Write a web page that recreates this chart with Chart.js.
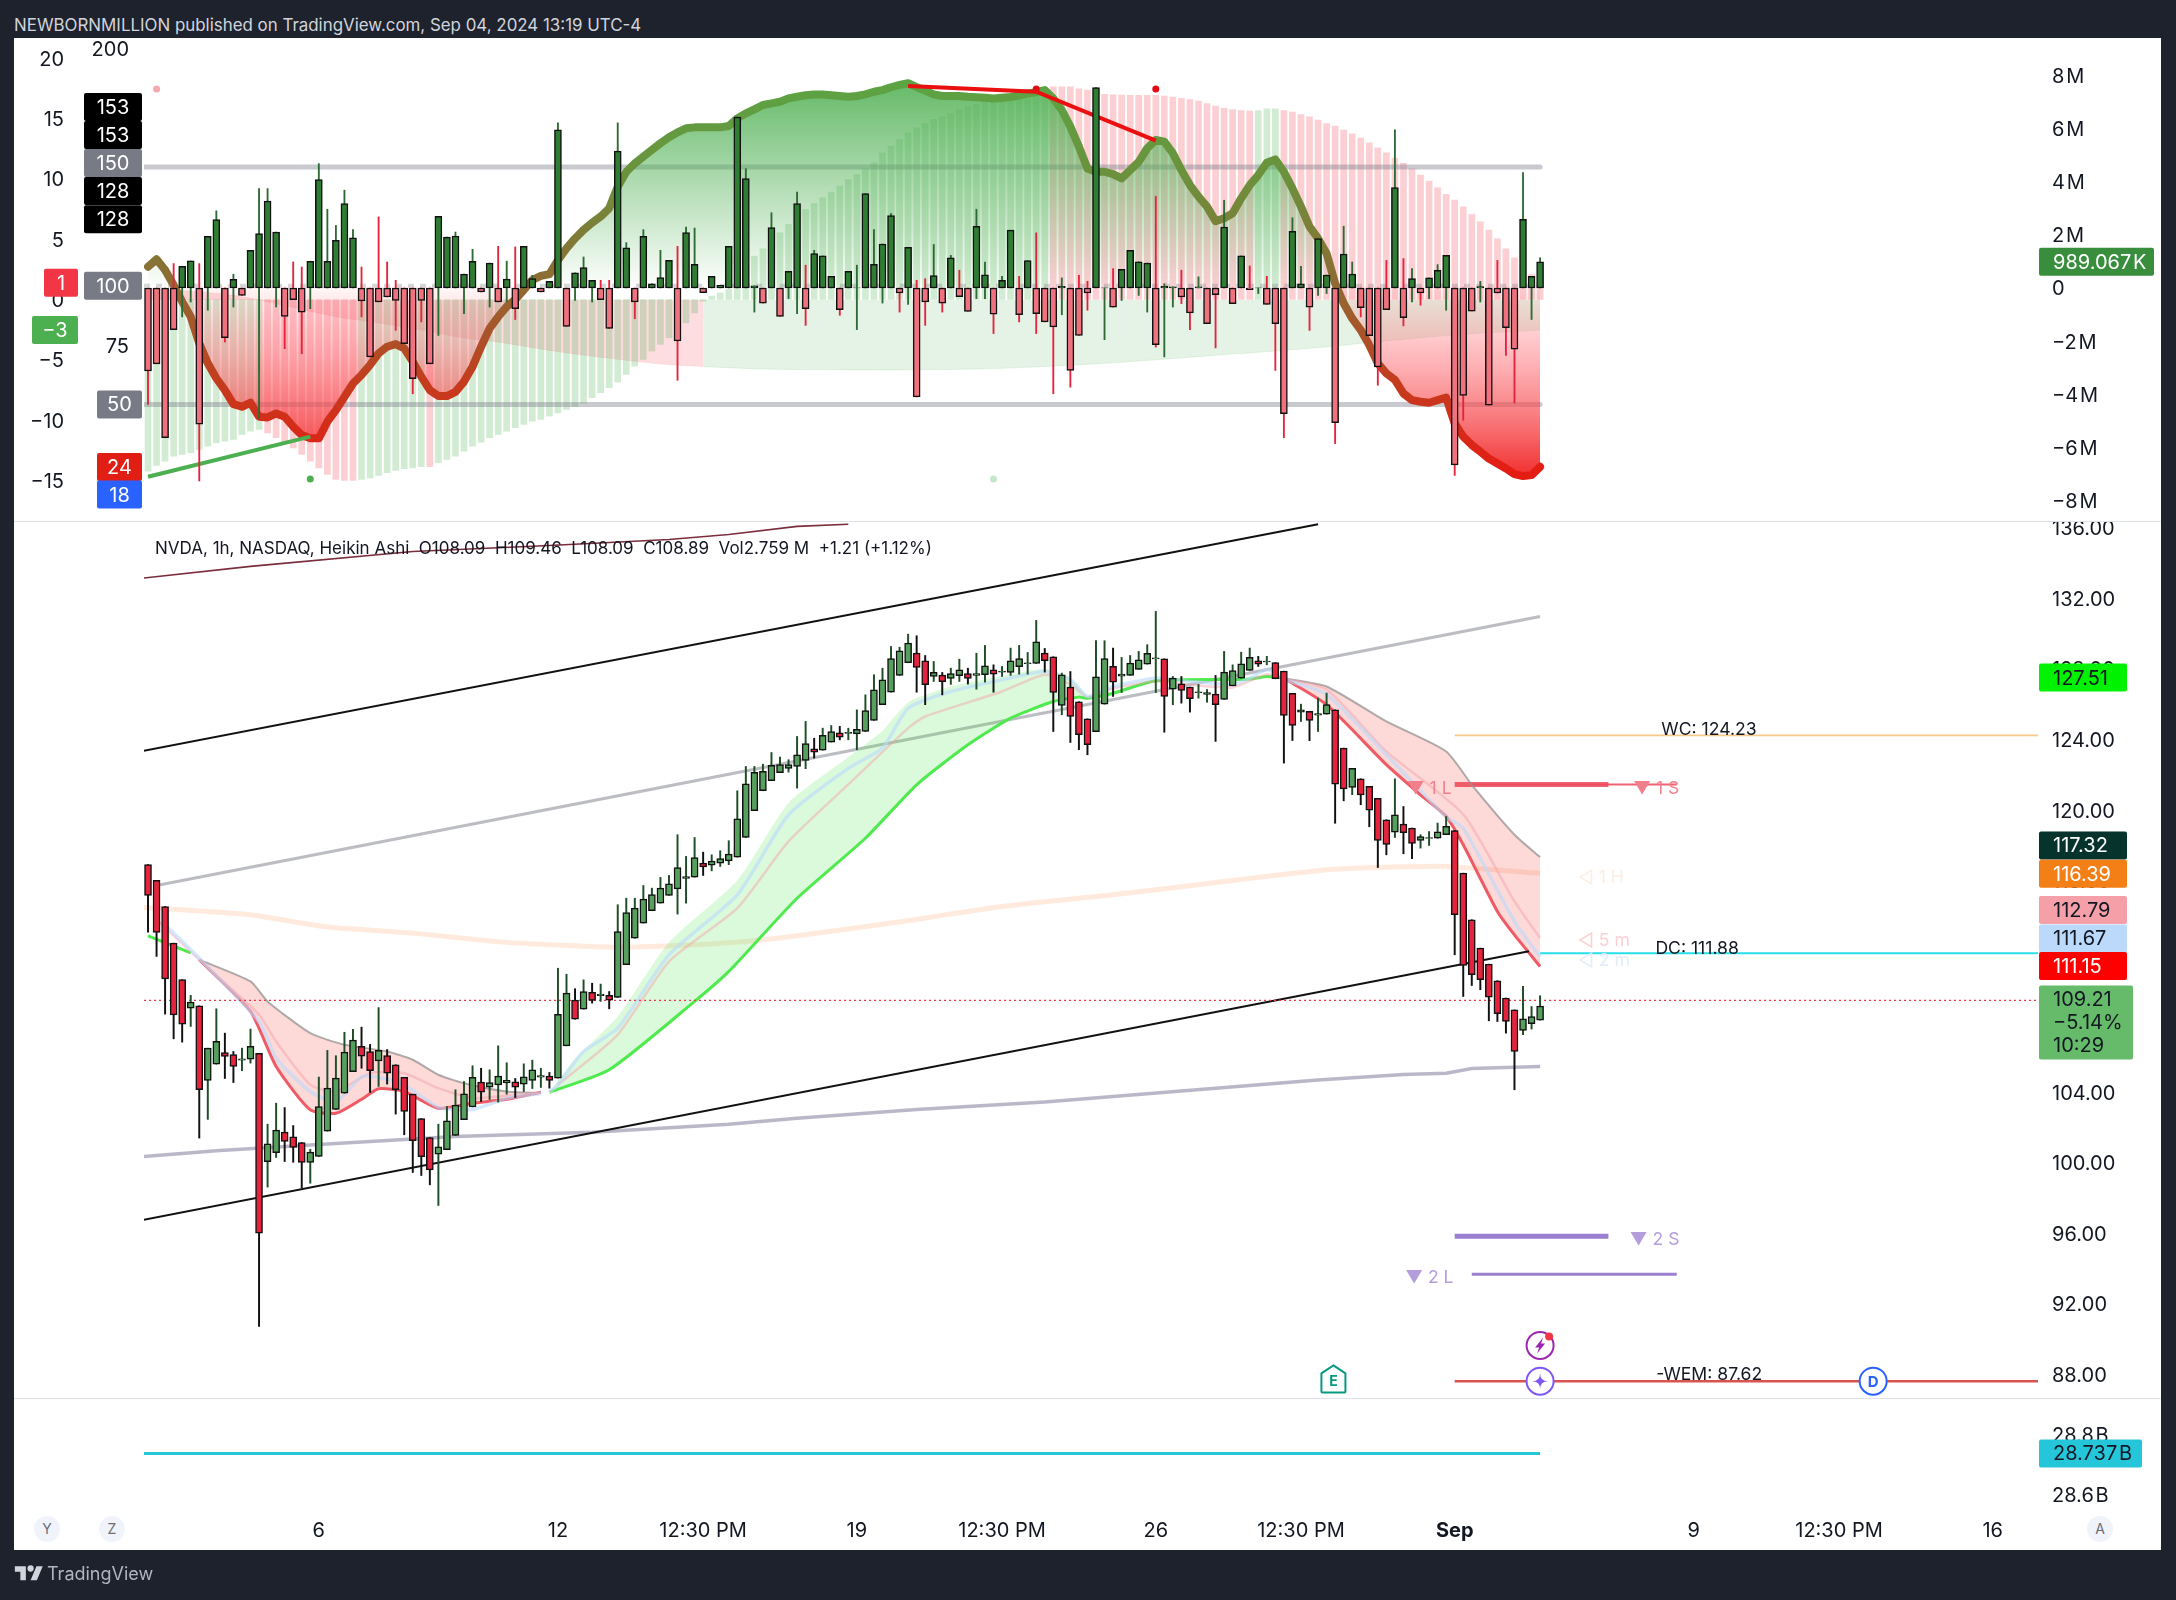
<!DOCTYPE html>
<html><head><meta charset="utf-8">
<style>
html,body{margin:0;padding:0;background:#1e222d;width:2176px;height:1600px;overflow:hidden;font-family:Inter,sans-serif}
#panel{position:absolute;left:14px;top:38px;width:2147px;height:1512px;background:#fff}
canvas{position:absolute;left:0}
.sep{position:absolute;left:14px;width:2147px;height:1px;background:#e0e3eb}
.t{position:absolute;white-space:pre}
.rb{position:absolute;width:26px;height:26px;border-radius:13px;background:#f0f3fa;color:#6a6d78;font-size:14px;line-height:26px;text-align:center;top:1516px}
</style>
<script src="https://cdn.jsdelivr.net/npm/chart.js@4/dist/chart.umd.min.js"></script>
</head><body>
<div id="panel"></div>
<canvas id="cTop" width="2176" height="483" style="top:38px"></canvas>
<canvas id="cMain" width="2176" height="877" style="top:521px"></canvas>
<canvas id="cBot" width="2176" height="152" style="top:1398px"></canvas>
<div class="sep" style="top:521px"></div>
<div class="sep" style="top:1398px"></div>
<div class="t" style="left:14px;top:15px;font-size:16.9px;color:#d1d4dc">NEWBORNMILLION published on TradingView.com, Sep 04, 2024 13:19 UTC-4</div>
<div class="t" style="left:155px;top:538px;font-size:17px;color:#131722">NVDA, 1h, NASDAQ, Heikin Ashi  O108.09  H109.46  L108.09  C108.89  Vol2.759 M  +1.21 (+1.12%)</div>
<div class="rb" style="left:34px">Y</div><div class="rb" style="left:99px">Z</div><div class="rb" style="left:2087px">A</div>
<svg style="position:absolute;left:14px;top:1563px" width="30" height="22" viewBox="0 0 36 28"><path fill="#d1d4dc" d="M14 22H7V11H0V4h14v18zM28 22h-8l7.5-18h8L28 22z"/><circle fill="#d1d4dc" cx="20" cy="7" r="4"/></svg>
<div class="t" style="left:47px;top:1563px;font-size:18px;color:#b2b5be">TradingView</div>
<script>
const open=[116.90,116.01,114.53,112.45,110.38,108.77,108.90,104.67,105.59,106.25,
106.14,105.82,105.88,106.21,100.06,100.58,101.74,101.47,101.15,100.02,
100.36,101.79,103.02,103.94,105.16,106.60,106.31,105.78,106.08,105.56,
104.84,103.89,102.51,101.43,100.49,100.74,101.55,102.44,103.17,104.57,
104.29,104.42,104.53,104.59,104.45,104.67,104.85,104.91,104.80,106.63,
109.22,108.71,109.67,109.47,109.49,109.37,111.23,112.73,113.59,114.29,
114.72,115.16,115.53,116.12,116.19,116.99,116.87,116.99,117.12,117.33,
118.44,119.96,121.09,121.66,122.11,122.36,122.47,122.81,123.47,123.39,
123.85,124.38,124.34,124.32,124.45,125.08,125.97,126.68,127.63,128.35,
128.89,128.46,127.57,127.65,127.46,127.61,127.74,127.63,127.67,127.95,
127.81,127.80,128.12,128.29,128.31,128.89,128.69,125.93,126.97,126.14,
125.17,124.44,126.00,128.14,127.59,127.63,127.97,128.27,128.57,128.57,
126.85,127.16,126.97,126.65,126.55,126.57,126.27,127.04,127.47,127.91,
128.46,128.40,128.36,127.87,126.61,125.55,125.60,125.38,125.43,125.68,
123.51,121.28,121.77,121.34,120.66,119.45,118.74,119.20,118.97,118.27,
118.39,118.40,118.60,118.84,116.42,113.78,112.17,111.26,110.32,109.34,
108.67,107.50,107.88,108.09];
const close=[115.16,113.06,110.43,108.39,107.86,109.11,104.14,106.50,106.88,106.03,
105.46,105.90,106.60,96.01,101.08,101.85,101.21,100.87,100.02,100.60,
103.19,104.23,104.80,106.27,106.95,106.05,105.22,106.38,105.08,104.14,
102.91,101.25,100.34,99.60,100.91,102.38,103.27,103.91,104.84,104.00,
104.55,104.91,104.68,104.29,104.87,105.27,104.95,104.67,108.42,109.62,
108.14,109.71,109.20,109.56,109.22,113.11,114.19,114.44,114.95,115.20,
115.57,115.82,116.74,116.23,117.31,116.78,117.10,117.24,117.50,119.50,
121.49,122.13,122.19,122.54,122.58,122.57,123.13,123.76,123.28,124.23,
124.45,124.13,124.41,124.58,125.64,126.82,127.38,128.58,129.03,129.46,
128.08,127.10,127.80,127.27,127.74,127.95,127.46,127.73,128.18,127.70,
127.87,128.46,128.58,128.35,129.54,128.46,126.66,127.67,125.30,124.27,
123.70,127.55,128.58,127.25,127.70,128.33,128.52,128.88,128.63,126.44,
127.48,126.78,126.31,126.70,126.66,125.97,127.82,127.90,128.29,128.65,
128.27,128.44,127.44,125.36,124.79,125.68,125.08,125.46,125.98,121.47,
121.20,122.36,120.86,119.99,118.27,118.05,119.73,118.71,118.10,118.50,
118.43,118.77,119.07,114.06,111.19,110.66,110.38,109.39,108.45,108.01,
106.31,108.16,108.29,108.89];
const high=[116.90,116.01,114.53,112.45,110.38,109.49,108.90,106.50,108.73,107.35,
106.31,106.50,107.58,106.21,102.19,103.38,103.13,102.11,101.15,100.76,
104.86,106.37,106.07,107.40,107.56,107.69,106.71,108.80,106.42,105.56,
104.84,103.89,102.51,101.43,102.19,103.19,104.14,104.61,105.50,105.36,
105.27,106.63,105.67,104.78,105.61,105.82,105.36,105.12,111.03,110.69,
109.87,110.37,110.18,110.13,109.71,114.63,115.00,115.00,115.72,115.57,
116.18,116.29,118.60,117.37,118.44,117.61,117.46,117.69,118.26,121.09,
122.47,122.47,122.60,123.26,123.00,122.85,124.17,125.02,124.07,124.64,
124.79,124.74,124.64,125.68,126.53,127.67,128.04,129.27,129.23,129.97,
129.88,128.76,128.42,127.80,128.04,128.55,128.04,128.89,129.33,128.23,
128.14,129.18,129.33,128.93,130.75,129.16,128.69,127.76,127.85,126.14,
125.17,129.60,129.60,129.18,128.65,128.76,128.99,129.37,131.26,128.57,
127.57,127.57,126.97,127.12,126.83,127.63,128.99,128.23,128.95,129.18,
128.71,128.71,128.36,127.87,126.61,126.00,125.60,126.34,126.63,125.68,
123.51,122.36,121.77,121.34,120.66,119.45,121.77,120.20,118.97,118.60,
118.78,119.26,119.63,118.84,116.42,113.78,112.17,111.26,110.32,109.34,
108.67,110.00,108.86,109.47];
const low=[113.08,111.70,108.43,107.03,106.84,107.73,101.40,102.46,105.59,104.78,
104.55,105.22,105.65,90.72,98.62,100.30,100.07,100.03,98.56,98.84,
100.36,101.79,103.02,103.94,105.16,105.36,103.99,104.33,104.46,102.76,
101.59,99.45,99.28,98.75,97.58,100.74,101.55,102.44,103.17,103.47,
103.59,103.44,103.89,103.70,104.04,104.21,104.27,104.23,104.80,106.63,
108.14,108.71,109.05,109.15,108.73,109.37,111.23,112.73,113.59,114.29,
114.72,115.16,114.10,114.72,116.19,116.29,116.55,116.80,116.90,117.33,
118.44,119.96,121.09,121.66,122.11,122.15,121.24,122.34,122.94,123.39,
123.85,123.98,123.98,123.42,124.45,125.08,125.97,126.68,127.63,128.35,
126.68,125.97,127.29,126.53,127.12,127.29,127.14,126.85,127.25,126.68,
127.57,127.63,127.70,127.70,128.31,127.82,124.45,125.40,123.83,123.42,
123.13,124.44,126.00,126.44,126.66,127.63,127.97,128.27,126.66,124.41,
125.97,126.06,125.55,126.34,126.11,123.89,126.27,127.04,127.47,127.91,
128.14,128.23,127.44,122.66,123.94,125.02,123.93,124.45,125.43,119.25,
120.52,120.87,120.30,119.05,116.74,117.46,118.44,117.52,117.24,117.84,
117.99,118.40,118.60,111.79,109.43,110.05,109.81,108.05,108.01,107.35,
104.14,107.26,107.58,108.09];
const vol=[-3.13,-2.86,-5.65,-1.57,.82,1.02,-5.14,1.95,2.58,-1.87,
.33,-.28,1.42,2.05,3.28,2.11,-1.07,-.44,-.91,1.01,
4.09,1.01,1.80,3.18,1.89,-.49,-2.60,-.53,-.34,-.47,
-2.10,-3.42,-.47,-2.86,2.70,1.92,1.96,.52,1.01,-.15,
.94,-.53,.34,-.78,1.57,.35,-.15,.25,5.97,-1.45,
.57,.77,.29,-.44,-1.53,5.16,1.51,-.53,1.95,.16,
.39,1.04,-2.0,2.09,.89,-.18,.44,.10,1.57,6.45,
4.13,.08,-.57,2.28,-1.07,.63,3.18,-.78,1.30,1.21,
.44,-.82,.63,.01,3.56,.89,1.66,2.73,-.19,1.53,
-4.11,-.53,.47,-.57,1.14,-.33,-.88,2.33,.50,-.99,
.29,2.18,-1.01,1.03,-.97,-1.28,-1.47,.06,-3.11,-1.79,
-.19,7.56,.01,-.72,.70,1.42,.99,.94,-2.14,.06,
.04,-.34,-.94,.04,-1.35,-.25,2.30,-.59,1.21,-.06,
.01,-.62,-1.35,-4.74,2.14,.16,-.72,1.86,.49,-5.08,
1.28,.52,-.74,-1.80,-2.98,-.82,3.79,-1.12,.35,-.19,
.38,.67,1.23,-6.67,-4.05,-.87,.05,-4.42,-.19,-1.50,
-2.31,2.59,.44,.989];
const volHigh=[0,0,0,.92,.82,1.02,.92,1.95,2.91,0,
.52,0,1.42,3.75,3.75,2.11,0,.98,.79,1.01,
4.69,2.97,2.36,3.69,2.20,.79,0,2.68,.98,.29,
0,0,0,0,2.70,1.92,2.11,.52,1.46,0,
.94,1.57,1.01,1.55,1.57,.48,0,.25,6.23,0,
.57,1.17,.29,.29,.29,6.23,1.71,0,2.20,.16,
1.42,1.04,1.57,2.30,2.26,0,.44,.10,1.57,6.45,
4.50,.08,0,2.84,0,.63,3.62,.86,1.42,1.21,
.44,0,.63,.86,3.56,2.20,1.66,2.81,0,1.53,
.29,.35,1.64,0,1.23,.67,0,2.97,.98,0,
.44,2.18,.44,1.03,2.08,0,0,.38,0,.48,
.25,7.56,.01,.73,.70,1.42,.99,.94,3.46,.16,
.04,.67,0,.42,0,0,3.31,0,1.21,.83,
.01,.44,0,0,2.65,.82,0,1.86,.49,0,
2.33,.98,0,0,0,1.04,5.97,1.11,.73,0,
.38,.88,1.23,0,0,0,.25,0,1.04,0,
0,4.35,.44,1.14];
const volLow=[-4.39,-2.86,-5.65,-1.57,-1.09,-.53,-7.28,-.84,0,-2.04,
-.72,-.28,0,-4.93,0,-.72,-2.29,-.44,-2.48,-.78,
0,0,0,0,0,-1.09,-2.60,-.53,-.34,-1.60,
-2.10,-3.99,-1.28,-2.86,-1.79,0,0,-.97,0,-.15,
-.72,-.53,-.53,-1.19,0,0,-.15,0,0,-1.45,
-.47,0,-.53,-.44,-1.53,0,0,-1.16,0,0,
0,0,-3.48,0,0,-.18,0,0,0,0,
0,-.91,-.57,0,-1.07,-.40,-.97,-1.41,0,0,
0,-1.03,0,-1.57,0,0,-.57,0,-.91,-.62,
-4.11,-1.41,0,-.91,0,-.33,-.88,-.40,-.40,-1.72,
0,0,-1.28,0,-1.72,-1.28,-3.99,-1.01,-3.74,-1.79,
-.84,0,-1.95,-.72,-.47,0,-.28,-.91,-2.23,-2.60,
-.72,-.59,-1.57,0,-1.35,-2.26,0,-.59,0,-.06,
-.21,-.62,-3.11,-5.65,0,0,-1.60,-.28,-.21,-5.87,
0,0,-1.09,-1.80,-3.67,-.82,0,-1.43,-.53,-.65,
-.40,0,-.84,-7.07,-4.99,-.87,-.53,-4.42,-.19,-2.54,
-4.34,0,-1.19,0];
const hist=[-14.23,-13.76,-13.41,-12.99,-12.85,-12.71,-12.44,-12.16,-11.88,-11.75,
-11.61,-11.19,-10.92,-10.78,-11.06,-11.47,-11.88,-12.30,-12.85,-13.41,
-13.96,-14.51,-14.93,-15.01,-15.01,-14.93,-14.79,-14.59,-14.37,-14.18,
-14.04,-13.96,-13.87,-13.87,-13.54,-13.27,-12.99,-12.58,-12.16,-11.83,
-11.47,-11.19,-10.92,-10.64,-10.36,-10.09,-9.95,-9.67,-9.40,-9.12,
-8.90,-8.62,-8.15,-7.74,-7.32,-6.85,-6.22,-5.53,-4.98,-4.28,
-3.73,-3.18,-2.76,-1.93,-1.11,-.14,.28,.55,.83,1.66,
2.76,3.59,4.2,4.92,5.53,6.22,6.77,7.46,7.96,8.43,
8.90,9.40,9.95,10.36,10.83,11.33,12.16,12.71,13.27,13.82,
14.23,14.59,14.93,15.15,15.42,15.75,15.98,16.17,16.36,16.53,
16.72,16.86,17.0,17.14,17.27,17.55,17.63,17.63,17.63,17.47,
17.36,17.14,17.0,16.97,16.94,16.92,16.92,16.92,16.92,16.86,
16.78,16.67,16.58,16.45,16.25,16.03,15.84,15.75,15.67,15.62,
15.67,15.81,15.81,15.67,15.53,15.34,15.15,14.87,14.59,14.37,
14.04,13.74,13.38,12.99,12.58,12.16,11.72,11.28,10.83,10.31,
9.81,9.26,8.71,8.24,7.68,7.05,6.44,5.75,5.03,4.2,
3.45,2.76,2.07,1.49];
const histPinkRanges=[[14,24],[33,33],[106,129],[133,163]];
const rsi=[108,111.1,106.6,100.3,93.3,86.9,75.7,67.3,61,56,
50.1,49,50.7,44.8,44.5,46.2,44.8,40.6,37.1,35.7,
35.7,42.7,47.6,53.2,58.8,62.4,66.6,71.5,74.3,75.4,
73.6,68,61.7,56,53.5,53.5,55.3,59.6,65.9,74.3,
82,86.9,91.2,94.2,98.2,102.4,104.1,104.9,110.8,115.7,
119.9,123.5,126.5,129.1,132.6,141.7,148,151.5,154.4,157.2,
160,162.5,164.6,166.3,166.7,166.7,166.7,166.7,167.3,170.5,
172.6,174.3,176.1,176.8,177.5,178.9,179.6,180.2,180.5,180.5,
180.2,179.9,179.6,179.9,180.6,181.7,182.4,183.6,184.6,185.3,
183.6,182.2,180.6,179.9,179.9,179.9,179.6,179.4,179.2,178.9,
179.2,179.5,180.1,181,181.5,182.4,178.9,174,167,158.6,
149.4,148,148,147,145.2,148.7,152.2,157.9,161.4,160.7,
155.8,148.7,142.4,137.5,133.3,127.2,128.4,130.5,136.8,142.4,
146.6,151.8,153.2,148,141,133.3,124.9,119.9,113.6,101,
92.6,86.2,81.3,75,67.3,63.1,60.3,54.6,51.8,51.1,
50.7,51.8,52.9,42,36.4,32.9,30.1,27.2,25.1,23,
20.6,19.8,20.2,23.7];
const sigLeftX=[0,8,12,22,26,32,36,42,48,54,60,65];
const sigLeft=[98.9,96.8,94.7,86.9,84.8,81.3,78.5,75.7,72.2,69.4,67,65.9];
const sigRightX=[65,72,76,88,100,112,124,136,144,154,163];
const sigRight=[65.9,64.9,64.7,64.5,65.2,67.3,70.4,73.6,76.4,79.5,81.3];
const sigBase=94;
const redDivX=[89,104,118],redDiv=[184.1,181.7,161.1];
const greenDivX=[0,19],greenDiv=[19.5,36.4];
const pinkDotsX=[1],redDotsX=[104,118],greenDotsX=[19],paleDotsX=[99];
const dotHigh=182.9,dotLow=18.6;
const rsiLevels=[150,50],rsiMid=100;
const chUpperX=[-0.5,137],chUpper=[123.36,136.2];
const chMidX=[1,163],chMid=[115.72,130.97];
const chLowerX=[-0.5,161.7],chLower=[96.77,111.99];
const maroonX=[-0.5,12,31,47,61,68,76,82],maroon=[133.15,133.81,134.66,135.0,135.34,135.62,136.08,136.2];
const peachX=[-0.5,12,20.5,31,41.5,54.5,62,70,76,87,100,113,126,138,144,152,163];
const peach=[114.48,114.06,113.4,113.02,112.51,112.22,112.32,112.55,112.87,113.59,114.53,115.19,115.95,116.61,116.74,116.8,116.42];
const longMaX=[-0.5,8,20.5,36,52,68,76,90,105,137,147,152,155,163];
const longMa=[100.36,100.68,101.05,101.49,101.73,102.19,102.53,103.02,103.44,104.69,105.0,105.08,105.35,105.46];
const greenStubX=[0,5],greenStub=[112.87,111.9];
const aUpperX=[6,12,14,19,23,28,31,34,37,42,46],aUpper=[111.51,110.28,109.15,107.35,106.69,106.31,105.84,104.99,104.51,104.04,103.95];
const aLowerX=[6,12,15,19,22,25,27,30,34,38,42,46],aLower=[111.51,108.58,105.46,103.0,102.81,103.6,104.2,104.04,103.09,103.38,103.6,104.0];
const aBlueX=[2,6,13,15,19,22,25,27,30,34,38,42,46],aBlue=[113.5,111.6,108.0,105.93,104.04,103.46,104.88,104.84,104.43,103.14,103.02,103.65,103.93];
const aPaleX=[1,6,13,15,19,22,26,30,34,38,42,46],aPale=[113.8,111.5,108.4,106.88,104.43,104.04,105.08,105.08,104.23,103.67,103.8,104.0];
const bLowerX=[47,54,64,68,76,84,90,96,101,106,109,110,113,118,129,131,133];
const bLower=[104.0,105.27,109.15,110.85,115.0,118.4,121.43,123.7,125.21,126.15,126.4,126.34,126.62,127.33,127.42,127.57,127.48];
const bBlueX=[47,48,51,55,61,69,75,82,86,89,94,100,105,108,110,113,118,122,127,129,131,133];
const bBlue=[104.0,104.42,106.31,107.63,111.79,115.19,119.73,122.37,123.51,125.77,126.72,127.38,127.85,127.38,126.44,127.0,127.47,127.29,127.1,127.47,127.97,127.5];
const bPaleX=[48,55,61,69,75,82,89,91,100,105,108,110,113,118,122,127,131,133];
const bPale=[104.42,107.27,111.41,114.44,118.22,121.45,124.64,125.3,126.72,127.67,127.12,126.4,126.9,127.3,127.1,126.95,127.7,127.45];
const bTopX=[47,50,55,61,69,75,82,86,89,94,100,105,108,110];
const bTop=[104.0,105.9,108.3,112.5,116.0,120.4,123.0,124.5,126.1,127.0,127.6,128.0,127.5,126.44];
const cUpperX=[133,138,145,152,155,160,163],cUpper=[127.47,127.0,125.02,123.32,121.43,118.6,117.33];
const cLowerX=[133,138,145,149,152,154,158,160,163],cLower=[127.47,125.97,122.57,120.86,119.63,118.03,114.25,112.92,111.13];
const cBlueX=[133,138,145,152,154,160,163],cBlue=[127.4,126.55,123.13,119.6,118.97,113.68,111.67];
const cPaleX=[133,138,145,154,160,163],cPale=[127.45,126.83,123.32,119.75,114.82,112.74];
const lastPrice=109.21,wc=124.23,dc=111.88,level1=121.45,level2s=95.84,level2l=93.68,wem=87.62,cvdValue=28.737;
const priceTicks=[88,92,96,100,104,108,112,116,120,124,128,132,136];
const volTicks=[8,6,4,2,0,-2,-4,-6,-8];
const oscTicks=[20,15,10,5,0,-5,-10,-15];
const rsiTicks=[200,150,100,75,50];
const cvdTicks=[28.8,28.6];
const timeIdx=[20,48,65,83,100,118,135,153,181,198,216];
const timeLabels=['6','12','12:30 PM','19','12:30 PM','26','12:30 PM','Sep','9','12:30 PM','16'];
const lastIdx=163,xMin=-0.47,xMax=221.3;
const mainTagText=['127.51','117.32','116.39','112.79','111.67','111.15'];
const mainTagAt=[127.51,117.99,116.39,114.33,112.72,111.15];

const FONT='Inter, sans-serif', INK='#131722', TS=20;
Chart.defaults.font.family=FONT; Chart.defaults.font.size=TS; Chart.defaults.color=INK;
Chart.defaults.animation=false;
const LAYOUT={padding:0,autoPadding:false};
const pts=(xs,ys)=>xs.map((x,i)=>({x,y:ys[i]}));
const idx=vol.map((_,i)=>i);
const minus=s=>String(s).replace('-','\u2212');
function xAxis(display){return {type:'linear',min:xMin,max:xMax,offset:false,display,grid:{display:false,offset:false},border:{display:false},
  afterBuildTicks:s=>{s.ticks=timeIdx.map(v=>({value:v}))},
  afterFit:s=>{if(display)s.height=38;s.paddingLeft=0;s.paddingRight=0},
  ticks:{autoSkip:false,maxRotation:0,padding:-1,callback:v=>timeLabels[timeIdx.indexOf(v)],
    font:c=>({family:FONT,size:TS,weight:c.tick&&c.tick.value===153?'700':'400'})}};}
function yAxis(pos,min,max,ticks,fmt,width,pad,weight){return {position:pos,min,max,weight,bounds:'data',grid:{display:false,drawTicks:false},border:{display:false},
  afterBuildTicks:s=>{s.ticks=ticks.map(v=>({value:v}))},
  afterFit:s=>{s.width=width;s.paddingTop=0;s.paddingBottom=0},
  ticks:{autoSkip:false,padding:pad,labelOffset:1.5,callback:fmt,font:{family:FONT,size:TS}}};}
function rr(c,x,y,w,h,r){c.beginPath();c.roundRect(x,y,w,h,r);c.fill();}
function drawTag(c,t,yc){const h=t.h||28;c.fillStyle=t.bg;rr(c,t.x0,yc-h/2,t.x1-t.x0,h,2);c.fillStyle=t.fg;
  c.font=TS+'px '+FONT;c.textBaseline='middle';
  const lines=t.lines||[t.text];
  lines.forEach((s,i)=>{const dy=(i-(lines.length-1)/2)*23;
    if(t.align==='center'){c.textAlign='center';c.fillText(s,(t.x0+t.x1)/2,yc+dy+1);}
    else{c.textAlign='left';c.fillText(s,t.x0+14,yc+dy+1);}});}
const tagsPlugin=list=>({id:'tags',afterDraw(ch){const c=ch.ctx;c.save();list.forEach(t=>drawTag(c,t,ch.scales[t.axis].getPixelForValue(t.at)));c.restore();}});

const topCtx=document.getElementById('cTop').getContext('2d');
const H=483,off=y=>(y-38)/H;
const rsiGrad=topCtx.createLinearGradient(0,0,0,H);
[[60,'#58a846'],[180,'#6c903c'],[286,'#8f6a33'],[380,'#c33d1f'],[470,'#e41d14']].forEach(s=>rsiGrad.addColorStop(off(s[0]),s[1]));
const upGrad=topCtx.createLinearGradient(0,85-38,0,285-38);
upGrad.addColorStop(0,'rgba(76,175,80,.85)');upGrad.addColorStop(1,'rgba(76,175,80,.02)');
const dnGrad=topCtx.createLinearGradient(0,286-38,0,475-38);
dnGrad.addColorStop(0,'rgba(255,90,100,.04)');dnGrad.addColorStop(.25,'rgba(255,110,120,.35)');dnGrad.addColorStop(1,'rgba(240,30,30,.92)');
const isPink=i=>histPinkRanges.some(r=>i>=r[0]&&i<=r[1]);
const line=(label,data,color,width,yID,extra)=>Object.assign({type:'line',label,data,yAxisID:yID,borderColor:color,borderWidth:width,pointRadius:0,tension:0,fill:false},extra||{});
const dots=(label,xs,y,color)=>({type:'line',label,data:xs.map(x=>({x,y})),yAxisID:'yRsi',showLine:false,pointRadius:3.5,pointBackgroundColor:color,pointBorderWidth:0,order:2});
const topTags=[
 {axis:'yRsi',at:175.3,text:'153',bg:'#000',fg:'#fff',x0:84,x1:142,align:'center'},
 {axis:'yRsi',at:163.5,text:'153',bg:'#000',fg:'#fff',x0:84,x1:142,align:'center'},
 {axis:'yRsi',at:151.7,text:'150',bg:'#787b86',fg:'#fff',x0:84,x1:142,align:'center'},
 {axis:'yRsi',at:139.9,text:'128',bg:'#000',fg:'#fff',x0:84,x1:142,align:'center'},
 {axis:'yRsi',at:128,text:'128',bg:'#000',fg:'#fff',x0:84,x1:142,align:'center'},
 {axis:'yRsi',at:100,text:'100',bg:'#787b86',fg:'#fff',x0:84,x1:142,align:'center'},
 {axis:'yRsi',at:50,text:'50',bg:'#787b86',fg:'#fff',x0:97,x1:142,align:'center'},
 {axis:'yRsi',at:23.6,text:'24',bg:'#e01e14',fg:'#fff',x0:97,x1:142,align:'center'},
 {axis:'yRsi',at:12,text:'18',bg:'#2962ff',fg:'#fff',x0:97,x1:142,align:'center'},
 {axis:'yOsc',at:1.39,text:'1',bg:'#f23645',fg:'#fff',x0:44,x1:78,align:'center'},
 {axis:'yOsc',at:-2.53,text:'\u22123',bg:'#4caf50',fg:'#fff',x0:32,x1:78,align:'center'},
 {axis:'yVol',at:.989,text:'989.067\u200AK',bg:'#388e3c',fg:'#fff',x0:2039,x1:2154}
];
new Chart(topCtx,{type:'bar',data:{datasets:[
 {label:'volume body',data:idx.map(i=>({x:i,y:[0,vol[i]]})),yAxisID:'yVol',barThickness:7,grouped:false,borderSkipped:false,borderWidth:1.5,borderColor:'#111',
  backgroundColor:vol.map(v=>v>=0?'#2e7d32':'#f0727f'),order:0},
 {label:'volume wick',data:idx.map(i=>({x:i,y:[volLow[i],volHigh[i]]})),yAxisID:'yVol',barThickness:1.2,grouped:false,borderWidth:0,
  backgroundColor:vol.map(v=>v>=0?'#2d6a35':'#e5233d'),order:1},
 line('bull divergence',pts(greenDivX,greenDiv),'#4caf50',4,'yRsi',{order:2}),
 line('bear divergence',pts(redDivX,redDiv),'#ea1010',4,'yRsi',{order:2}),
 dots('pink dot',pinkDotsX,dotHigh,'#f7a8b0'),dots('red dots',redDotsX,dotHigh,'#e50914'),
 dots('green dot',greenDotsX,dotLow,'#4caf50'),dots('pale dot',paleDotsX,dotLow,'#c8e6c9'),
 line('oscillator',idx.map(i=>({x:i,y:rsi[i]})),rsiGrad,8,'yRsi',{order:3,fill:{target:{value:rsiMid},above:upGrad,below:dnGrad},borderCapStyle:'round',borderJoinStyle:'round'}),
 line('level 150',[{x:xMin,y:rsiLevels[0]},{x:lastIdx,y:rsiLevels[0]}],'rgba(120,123,134,.4)',5,'yRsi',{order:4,borderCapStyle:'round'}),
 line('level 50',[{x:xMin,y:rsiLevels[1]},{x:lastIdx,y:rsiLevels[1]}],'rgba(120,123,134,.4)',5,'yRsi',{order:4,borderCapStyle:'round'}),
 line('level 100',[{x:xMin,y:rsiMid},{x:lastIdx,y:rsiMid}],'rgba(120,123,134,.3)',4,'yRsi',{order:4,borderDash:[6,6]}),
 {label:'histogram',data:idx.map(i=>({x:i,y:[0,hist[i]]})),yAxisID:'yOsc',barThickness:6,grouped:false,borderWidth:0,
  backgroundColor:idx.map(i=>isPink(i)?'rgba(242,54,69,.24)':'rgba(76,175,80,.25)'),order:5},
 line('signal left',pts(sigLeftX,sigLeft),'rgba(242,54,69,.08)',1,'yRsi',{order:6,tension:.3,fill:{target:{value:sigBase},above:'rgba(242,54,69,.17)',below:'rgba(242,54,69,.17)'}}),
 line('signal right',pts(sigRightX,sigRight),'rgba(76,175,80,.12)',1,'yRsi',{order:6,tension:.3,fill:{target:{value:sigBase},above:'rgba(76,175,80,.15)',below:'rgba(76,175,80,.15)'}})
]},options:{responsive:false,animation:false,layout:LAYOUT,plugins:{legend:{display:false},tooltip:{enabled:false}},
 scales:{x:xAxis(false),
  yOsc:yAxis('left',-18.37,21.68,oscTicks,v=>minus(v),74,10,2),
  yRsi:yAxis('left',0.88,204.34,rsiTicks,v=>String(v),70,15,1),
  yVol:yAxis('right',-8.79,9.43,volTicks,v=>v===0?'0':minus(v)+'\u200AM',138,14,1)}},plugins:[tagsPlugin(topTags)]});

const mainCtx=document.getElementById('cMain').getContext('2d');
const blue='rgba(187,217,251,.6)',pale='rgba(245,160,168,.45)',redL='#ef5a65',edge='rgba(150,145,145,.75)',gr='#4eea4e';
const redFill='rgba(244,67,54,.2)',greenFill='rgba(76,230,76,.2)';
const mainSets=[
 {label:'candle body',data:idx.map(i=>({x:i,y:[open[i],close[i]]})),yAxisID:'yP',barThickness:7,grouped:false,borderSkipped:false,borderWidth:1.5,borderColor:'#111',
  backgroundColor:idx.map(i=>close[i]>=open[i]?'#55a05c':'#e5233d'),order:0},
 {label:'candle wick',data:idx.map(i=>({x:i,y:[low[i],high[i]]})),yAxisID:'yP',barThickness:1.3,grouped:false,borderWidth:0,
  backgroundColor:idx.map(i=>close[i]>=open[i]?'#1f4d27':'#111'),order:1},
 line('last',[{x:xMin,y:lastPrice},{x:xMax,y:lastPrice}],'#f23645',1.3,'yP',{borderDash:[2,3],order:2}),
 line('channel upper',pts(chUpperX,chUpper),'#111',2,'yP',{order:3}),
 line('channel lower',pts(chLowerX,chLower),'#111',2,'yP',{order:3}),
 line('maroon',pts(maroonX,maroon),'#7b2d3b',1.6,'yP',{order:3}),
 line('A blue',pts(aBlueX,aBlue),blue,3.5,'yP',{order:4,tension:.2}),
 line('A pale',pts(aPaleX,aPale),pale,2.5,'yP',{order:4,tension:.2}),
 line('B blue line',pts(bBlueX,bBlue),blue,3.5,'yP',{order:4,tension:.2}),
 line('B pale',pts(bPaleX,bPale),pale,2.5,'yP',{order:4,tension:.2}),
 line('C blue',pts(cBlueX,cBlue),blue,3.5,'yP',{order:4,tension:.2}),
 line('C pale',pts(cPaleX,cPale),pale,2.5,'yP',{order:4,tension:.2}),
 line('stub',pts(greenStubX,greenStub),gr,3,'yP',{order:4})
];
const aLowIdx=mainSets.length; mainSets.push(line('A lower',pts(aLowerX,aLower),redL,3,'yP',{order:5,tension:.2}));
mainSets.push(line('A upper',pts(aUpperX,aUpper),edge,2,'yP',{order:6,tension:.2,fill:{target:aLowIdx,above:redFill,below:redFill}}));
const bLowIdx=mainSets.length; mainSets.push(line('B lower',pts(bLowerX,bLower),gr,3,'yP',{order:5,tension:.2}));
mainSets.push(line('B upper',pts(bTopX,bTop),'rgba(0,0,0,0)',0,'yP',{order:6,tension:.2,fill:{target:bLowIdx,above:greenFill,below:greenFill}}));
const cLowIdx=mainSets.length; mainSets.push(line('C lower',pts(cLowerX,cLower),redL,3,'yP',{order:5,tension:.2}));
mainSets.push(line('C upper',pts(cUpperX,cUpper),edge,2,'yP',{order:6,tension:.2,fill:{target:cLowIdx,above:redFill,below:redFill}}));
mainSets.push(
 line('channel mid',pts(chMidX,chMid),'rgba(120,123,134,.5)',3,'yP',{order:7}),
 line('peach',pts(peachX,peach),'rgba(255,205,175,.42)',5,'yP',{order:7,tension:.2}),
 line('long ma',pts(longMaX,longMa),'rgba(130,125,155,.55)',3.5,'yP',{order:7}),
 line('WC',[{x:153,y:wc},{x:xMax,y:wc}],'#f7c98a',1.6,'yP',{order:7}),
 line('DC',[{x:lastIdx,y:dc},{x:xMax,y:dc}],'#26dfe8',2,'yP',{order:7}),
 line('1S thick',[{x:153,y:level1},{x:171,y:level1}],'rgba(236,72,90,.85)',5,'yP',{order:7}),
 line('1L thin',[{x:155,y:level1},{x:179,y:level1}],'rgba(236,72,90,.85)',2,'yP',{order:7}),
 line('2S',[{x:153,y:level2s},{x:171,y:level2s}],'#9b7fd1',5,'yP',{order:7}),
 line('2L',[{x:155,y:level2l},{x:179,y:level2l}],'#9b7fd1',3,'yP',{order:7}),
 line('WEM',[{x:153,y:wem},{x:xMax,y:wem}],'#d9534f',2.5,'yP',{order:7})
);
const mainLabels=[
 {x:177.2,y:124.56,s:'WC: 124.23',c:INK},{x:176.5,y:112.15,s:'DC: 111.88',c:INK},{x:176.6,y:88.0,s:'-WEM: 87.62',c:INK},
 {x:173.9,y:121.22,s:'\u25BC 1 S',c:'#f2808c'},{x:147.4,y:121.22,s:'\u25BC 1 L',c:'#f2808c'},
 {x:173.5,y:95.65,s:'\u25BC 2 S',c:'#b39ddb'},{x:147.2,y:93.5,s:'\u25BC 2 L',c:'#b39ddb'},
 {x:167.4,y:116.17,s:'\u25C1 1 H',c:'#fdeee3'},{x:167.4,y:112.6,s:'\u25C1 5 m',c:'#fbd0d5'},{x:167.4,y:111.47,s:'\u25C1 2 m',c:'#e3ecf8'}
];
const rightX0=2039,rightX1=2127;
const mainTagStyle=[['#00f200',INK],['#06332b','#fff'],['#f57f17','#fff'],['#f5a0a8',INK],['#bbd9fb',INK],['#ff0000','#fff']];
const mainTags=mainTagText.map((s,i)=>({axis:'yP',at:mainTagAt[i],text:s,bg:mainTagStyle[i][0],fg:mainTagStyle[i][1],x0:rightX0,x1:rightX1}));
mainTags.push({axis:'yP',at:107.96,lines:['109.21','\u22125.14%','10:29'],bg:'#66bb6a',fg:INK,x0:rightX0,x1:2133,h:74});
const iconsPlugin={id:'icons',afterDraw(ch){const c=ch.ctx,X=ch.scales.x,Y=ch.scales.yP;c.save();
 c.font='17.6px '+FONT;c.textBaseline='middle';c.textAlign='left';
 mainLabels.forEach(l=>{c.fillStyle=l.c;c.fillText(l.s,X.getPixelForValue(l.x),Y.getPixelForValue(l.y));});
 const circ=(x,y,col)=>{c.beginPath();c.arc(x,y,13.5,0,7);c.fillStyle='#fff';c.fill();c.lineWidth=2;c.strokeStyle=col;c.stroke();};
 let x=X.getPixelForValue(202),y=Y.getPixelForValue(wem);circ(x,y,'#2962ff');
 c.fillStyle='#2962ff';c.font='700 15px '+FONT;c.textAlign='center';c.fillText('D',x,y+1);
 x=X.getPixelForValue(lastIdx);circ(x,y,'#7e57f5');c.fillStyle='#7e57f5';c.beginPath();
 c.moveTo(x,y-8);c.quadraticCurveTo(x,y,x+8,y);c.quadraticCurveTo(x,y,x,y+8);c.quadraticCurveTo(x,y,x-8,y);c.quadraticCurveTo(x,y,x,y-8);c.fill();
 let y2=Y.getPixelForValue(89.64);circ(x,y2,'#9c27b0');c.fillStyle='#9c27b0';c.beginPath();
 c.moveTo(x+3,y2-8);c.lineTo(x-5,y2+2);c.lineTo(x-1,y2+2);c.lineTo(x-3,y2+8);c.lineTo(x+5,y2-2);c.lineTo(x+1,y2-2);c.closePath();c.fill();
 c.fillStyle='#f23645';c.beginPath();c.arc(x+9,y2-9,4,0,7);c.fill();
 x=X.getPixelForValue(138.8);y=Y.getPixelForValue(87.72);c.strokeStyle='#089981';c.lineWidth=2;c.fillStyle='#fff';c.beginPath();
 c.moveTo(x,y-14);c.lineTo(x+12,y-6);c.lineTo(x+12,y+12);c.quadraticCurveTo(x+12,y+13,x+11,y+13);c.lineTo(x-11,y+13);c.quadraticCurveTo(x-12,y+13,x-12,y+12);c.lineTo(x-12,y-6);c.closePath();c.fill();c.stroke();
 c.fillStyle='#089981';c.font='700 14px '+FONT;c.textAlign='center';c.fillText('E',x,y+2);
 c.restore();}};
const hiddenLeft={display:true,position:'left',min:0,max:1,grid:{display:false},border:{display:false},ticks:{display:false},afterFit:s=>{s.width=144;s.paddingTop=0;s.paddingBottom=0}};
new Chart(mainCtx,{type:'bar',data:{datasets:mainSets},options:{responsive:false,animation:false,layout:LAYOUT,plugins:{legend:{display:false},tooltip:{enabled:false}},
 scales:{x:xAxis(false),yHidden:hiddenLeft,
  yP:yAxis('right',86.665,136.385,priceTicks,v=>v.toFixed(2),138,14,1)}},plugins:[iconsPlugin,tagsPlugin(mainTags)]});

const botCtx=document.getElementById('cBot').getContext('2d');
new Chart(botCtx,{type:'line',data:{datasets:[
 {label:'cvd',data:[{x:xMin,y:cvdValue},{x:lastIdx,y:cvdValue}],yAxisID:'yC',borderColor:'#26c6da',borderWidth:3,pointRadius:0}
]},options:{responsive:false,animation:false,layout:LAYOUT,plugins:{legend:{display:false},tooltip:{enabled:false}},
 scales:{x:xAxis(true),yHidden:hiddenLeft,
  yC:yAxis('right',28.5417,28.9217,cvdTicks,v=>v.toFixed(1)+'\u200AB',138,14,1)}},
 plugins:[tagsPlugin([{axis:'yC',at:cvdValue,text:'28.737\u200AB',bg:'#26c6da',fg:INK,x0:2039,x1:2142}])]});
</script>
</body></html>
